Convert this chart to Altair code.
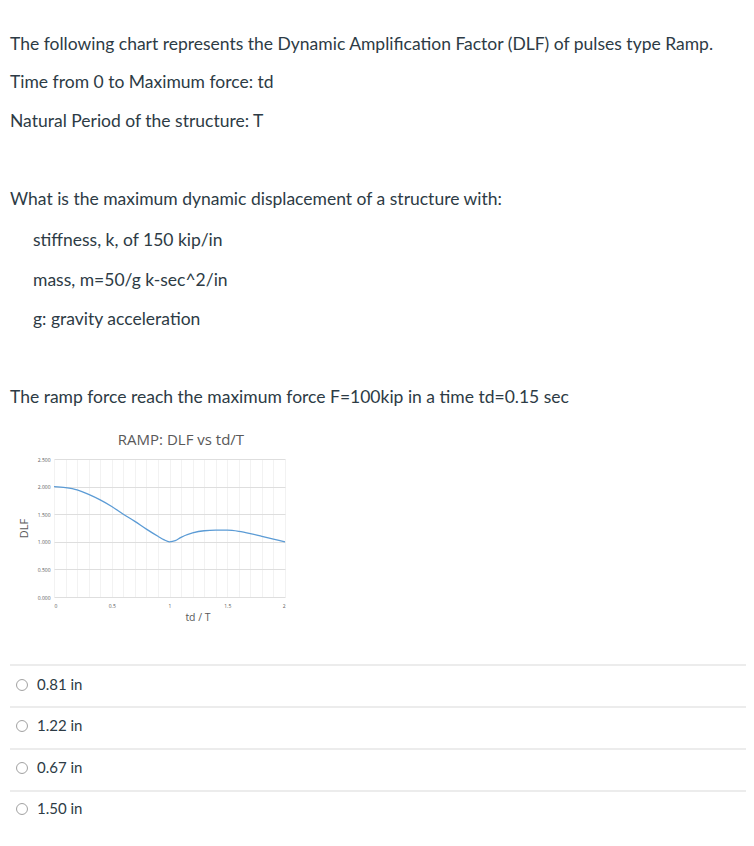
import altair as alt
import pandas as pd

# question text
intro_lines = [
    "The following chart represents the Dynamic Amplification Factor (DLF) of pulses type Ramp.",
    "Time from 0 to Maximum force: td",
    "Natural Period of the structure: T",
    "What is the maximum dynamic displacement of a structure with:",
]
detail_lines = [
    "stiffness, k, of 150 kip/in",
    "mass, m=50/g k-sec^2/in",
    "g: gravity acceleration",
]
ramp_line = "The ramp force reach the maximum force F=100kip in a time td=0.15 sec"
answers = ["0.81 in", "1.22 in", "0.67 in", "1.50 in"]

# DLF curve
td_T = [0.0, 0.1, 0.2, 0.3, 0.4, 0.5, 0.6, 0.7, 0.8, 0.9, 0.95, 1.0, 1.05,
        1.1, 1.2, 1.3, 1.4, 1.5, 1.6, 1.7, 1.8, 1.9, 2.0]
dlf = [2.00, 1.98, 1.94, 1.86, 1.76, 1.64, 1.50, 1.37, 1.23, 1.10, 1.04, 1.00, 1.02,
       1.08, 1.16, 1.20, 1.21, 1.21, 1.19, 1.15, 1.10, 1.05, 1.00]

# plot area position on the page
PX, PY, W, H = 54, 459, 231, 138
TEXT_FONT = "Lato"
TEXT_COLOR = "#2d3b45"
CHART_GREY = "#595959"

df = pd.DataFrame({"td_T": td_T, "DLF": dlf})
one = pd.DataFrame({"k": [0]})

grid_x = [round(i * 0.1, 1) for i in range(21)]

curve = alt.Chart(df).mark_line(
    color="#5b9bd5", strokeWidth=1.3, interpolate="monotone"
).encode(
    x=alt.X("td_T:Q", title=None,
            scale=alt.Scale(domain=[0, 2], nice=False),
            axis=alt.Axis(values=grid_x, format="~g",
                          labelExpr="round(datum.value * 10) % 5 == 0 ? datum.label : ''",
                          domain=False, ticks=False, gridColor="#f2f2f2",
                          labelFontSize=5, labelColor=CHART_GREY, labelPadding=6,
                          labelFont="Open Sans")),
    y=alt.Y("DLF:Q", title="DLF",
            scale=alt.Scale(domain=[0, 2.5], nice=False),
            axis=alt.Axis(values=[0, 0.5, 1, 1.5, 2, 2.5], format=".3f",
                          domain=False, ticks=False, gridColor="#dedede",
                          labelFontSize=5, labelColor=CHART_GREY, labelPadding=4,
                          labelFont="Open Sans", titleFont="Open Sans",
                          titleFontSize=11, titleFontWeight="normal",
                          titleColor=CHART_GREY, titlePadding=8)),
)


def text_at(s, px, py, size=17.5, font=TEXT_FONT, color=TEXT_COLOR, align="left"):
    return alt.Chart(one).mark_text(
        text=s, align=align, baseline="middle", font=font,
        fontSize=size, color=color
    ).encode(x=alt.value(px - PX), y=alt.value(py - PY))


layers = [curve]

layers.append(text_at("RAMP: DLF vs td/T", 181, 440, size=15,
                      font="Open Sans", color=CHART_GREY, align="center"))
layers.append(text_at("td / T", 198, 618, size=10.5,
                      font="Open Sans", color=CHART_GREY, align="center"))

for s, py in zip(intro_lines, [45, 83, 122, 200]):
    layers.append(text_at(s, 10, py))
for s, py in zip(detail_lines, [241, 281, 320]):
    layers.append(text_at(s, 33, py))
layers.append(text_at(ramp_line, 10, 398))

for s, py, ly in zip(answers, [685, 726, 768, 809], [665, 707, 749, 791]):
    layers.append(alt.Chart(one).mark_rule(color="#d9d9d9", strokeWidth=1).encode(
        x=alt.value(10 - PX), x2=alt.value(754 - PX),
        y=alt.value(ly - PY)))
    layers.append(alt.Chart(one).mark_point(
        shape="circle", size=120, filled=False, color="#7a7a7a", strokeWidth=1
    ).encode(x=alt.value(22 - PX), y=alt.value(py - PY)))
    layers.append(text_at(s, 37, py, size=15))

chart = alt.layer(*layers).properties(
    width=W, height=H,
    padding={"left": PX - 8, "top": PY - 8, "right": 738 - (PX - 8) - W,
             "bottom": 830 - (PY - 8) - H},
    autosize=alt.AutoSizeParams(type="none"),
).configure_view(stroke=None)

chart.save("out.html", embed_options={"renderer": "svg", "actions": False})
